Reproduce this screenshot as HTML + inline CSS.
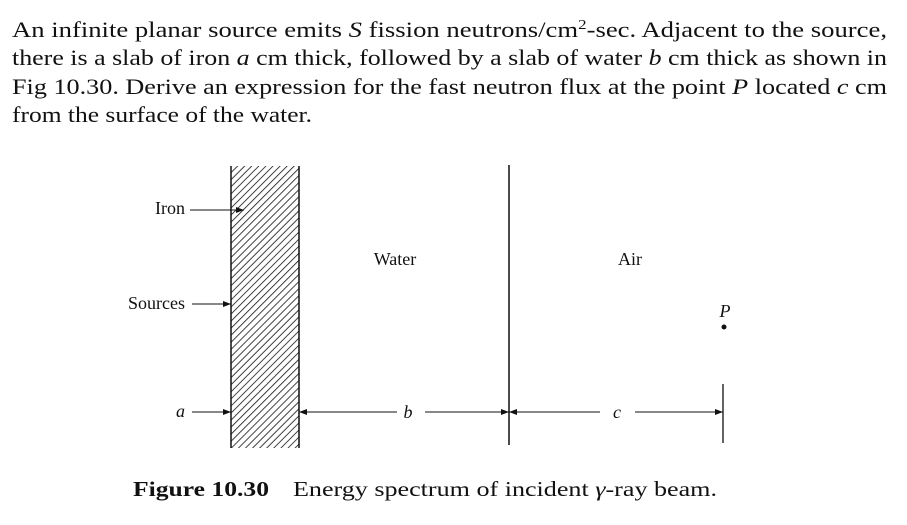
<!DOCTYPE html>
<html><head><meta charset="utf-8"><style>
html,body{margin:0;padding:0;background:#fff;}
svg{display:block;}
text{font-family:"Liberation Serif",serif;fill:#111;}
</style></head><body>
<svg width="907" height="525" viewBox="0 0 907 525">
<defs>
<pattern id="hatch" patternUnits="userSpaceOnUse" width="5" height="5" patternTransform="rotate(45)">
<line x1="0" y1="0" x2="0" y2="5" stroke="#111" stroke-width="1.6"/>
</pattern>
<marker id="arr" markerWidth="8" markerHeight="6" refX="8" refY="3" orient="auto" markerUnits="userSpaceOnUse">
<path d="M0,0 L8,3 L0,6 z" fill="#111"/>
</marker>
</defs>
<g font-size="22">
<text x="12" y="37" textLength="875" lengthAdjust="spacingAndGlyphs">An infinite planar source emits <tspan font-style="italic">S</tspan> fission neutrons/cm<tspan dy="-8" font-size="14">2</tspan><tspan dy="8">-sec. Adjacent to the source,</tspan></text>
<text x="12" y="65" textLength="875" lengthAdjust="spacingAndGlyphs">there is a slab of iron <tspan font-style="italic">a</tspan> cm thick, followed by a slab of water <tspan font-style="italic">b</tspan> cm thick as shown in</text>
<text x="12" y="94" textLength="875" lengthAdjust="spacingAndGlyphs">Fig 10.30. Derive an expression for the fast neutron flux at the point <tspan font-style="italic">P</tspan> located <tspan font-style="italic">c</tspan> cm</text>
<text x="12" y="122" textLength="300" lengthAdjust="spacingAndGlyphs">from the surface of the water.</text>
</g>
<rect x="231" y="166" width="68" height="282" fill="url(#hatch)"/>
<line x1="231" y1="166" x2="231" y2="448" stroke="#111" stroke-width="1.5"/>
<line x1="299" y1="166" x2="299" y2="448" stroke="#111" stroke-width="1.5"/>
<line x1="509" y1="165" x2="509" y2="445" stroke="#111" stroke-width="1.5"/>
<line x1="723" y1="384" x2="723" y2="443" stroke="#111" stroke-width="1.3"/>
<g font-size="18">
<text x="185" y="214" text-anchor="end">Iron</text>
<text x="185" y="309" text-anchor="end">Sources</text>
<text x="185" y="417" text-anchor="end" font-style="italic">a</text>
<text x="395" y="265" text-anchor="middle">Water</text>
<text x="630" y="265" text-anchor="middle">Air</text>
<text x="408" y="418" text-anchor="middle" font-style="italic">b</text>
<text x="617" y="418" text-anchor="middle" font-style="italic">c</text>
<text x="725" y="317" text-anchor="middle" font-style="italic">P</text>
</g>
<circle cx="724" cy="327" r="2.5" fill="#111"/>
<g stroke="#111" stroke-width="1" fill="none">
<line x1="190" y1="210" x2="244" y2="210" marker-end="url(#arr)"/>
<line x1="192" y1="304" x2="231" y2="304" marker-end="url(#arr)"/>
<line x1="192" y1="412" x2="231" y2="412" marker-end="url(#arr)"/>
<line x1="397" y1="412" x2="299" y2="412" marker-end="url(#arr)"/>
<line x1="425" y1="412" x2="509" y2="412" marker-end="url(#arr)"/>
<line x1="600" y1="412" x2="509" y2="412" marker-end="url(#arr)"/>
<line x1="635" y1="412" x2="723" y2="412" marker-end="url(#arr)"/>
</g>
<g font-size="21.5">
<text x="133" y="496" font-weight="bold" textLength="136" lengthAdjust="spacingAndGlyphs">Figure 10.30</text>
<text x="293" y="496" textLength="424" lengthAdjust="spacingAndGlyphs">Energy spectrum of incident <tspan font-style="italic">γ</tspan>-ray beam.</text>
</g>
</svg>
</body></html>
